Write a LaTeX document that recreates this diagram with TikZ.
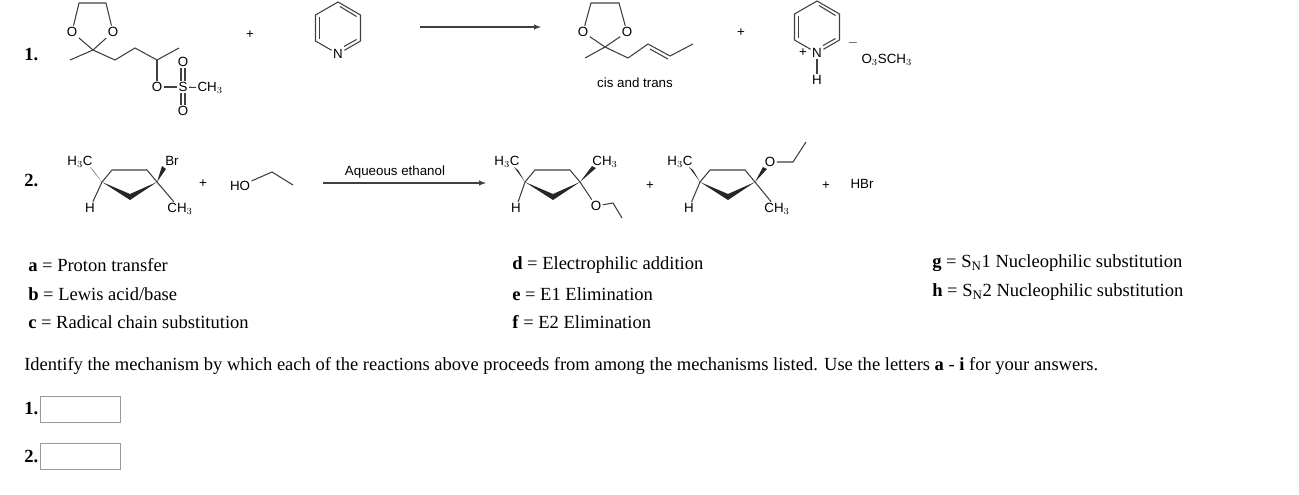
\documentclass[tikz,border=0pt]{standalone}
\usepackage{fontspec}
\setmainfont{Liberation Serif}
\newfontfamily\chemf{Liberation Sans}
\begin{document}
\begin{tikzpicture}[x=0.75pt,y=-0.75pt,
  bond/.style={draw=black!75,line width=0.8pt},
  atm/.style={font=\chemf\fontsize{10}{11}\selectfont,inner sep=1pt,fill=white},
  tx/.style={font=\fontsize{13.9}{15}\selectfont,anchor=west,inner sep=0pt},
  num/.style={font=\bfseries\fontsize{13.9}{15}\selectfont,anchor=west,inner sep=0pt},
  cp/.pic={
    \coordinate (-l) at (0,0); \coordinate (-r) at (55,0);
    \draw[bond] (0,0) -- (10,-12) -- (45,-12) -- (55,0);
    \fill[black!85] (0,0) -- (28,12) -- (55,0) -- (28,18) -- cycle;
  }]
\useasboundingbox (0,0) rectangle (1299,494);
% ---------- reaction 1
\node[num] (n1) at (24,55) {1.};
\coordinate (c2) at (93,50);
\node[atm] (o1) at (72,32) {O};
\node[atm] (o2) at (113,32) {O};
\coordinate (t1) at (79,3); \coordinate (t2) at (106,3);
\draw[bond] (o1) -- (t1) -- (t2) -- (o2);
\draw[bond] (o1) -- (c2) -- (o2);
\draw[bond] (70,60) -- (c2) -- (115,60) -- (135,48) -- (157,60) -- (179,48);
\node[atm] (om) at (157,87) {O};
\node[atm] (s) at (183,87) {S};
\node[atm,anchor=west] (me) at (196,88) {CH$_3$};
\node[atm] (os1) at (183,62) {O};
\node[atm] (os2) at (183,111) {O};
\draw[bond] (157,60) -- (om);
\draw[bond] (om) -- (s); \draw[bond] (s) -- (me);
\draw[bond] ([xshift=-1.5]s.north) -- ([xshift=-1.5]os1.south);
\draw[bond] ([xshift=1.5]s.north) -- ([xshift=1.5]os1.south);
\draw[bond] ([xshift=-1.5]s.south) -- ([xshift=-1.5]os2.north);
\draw[bond] ([xshift=1.5]s.south) -- ([xshift=1.5]os2.north);
\node[atm] (p1) at (250,35) {+};
\begin{scope}[shift={(338,28)}]
\node[atm] (pn) at (0,26) {N};
\draw[bond] (pn) -- (-22.5,13) -- (-22.5,-13) -- (0,-26) -- (22.5,-13) -- (22.5,13) -- (pn);
\draw[bond] (-18.5,11) -- (-18.5,-11);
\draw[bond] (2,-21.5) -- (18.5,-11.5);
\draw[bond] (18.5,11.5) -- (6,18.5);
\end{scope}
\coordinate (a1s) at (420,27); \coordinate (a1e) at (541,27);
\draw[bond,-latex] (a1s) -- (a1e);
\coordinate (d2) at (605,47);
\node[atm] (q1) at (583,32) {O};
\node[atm] (q2) at (627,32) {O};
\draw[bond] (q1) -- (591,3) -- (619,3) -- (q2);
\draw[bond] (q1) -- (d2) -- (q2);
\draw[bond] (585,58) -- (d2) -- (628,58) -- (648,44) -- (670,56) -- (693,44);
\draw[bond] (650,49) -- (668,59);
\node[atm] (cis) at (635,83) {cis and trans};
\node[atm] (p2) at (741,33) {+};
\begin{scope}[shift={(817,27)}]
\node[atm] (qn) at (0,26) {N};
\draw[bond] (qn) -- (-22.5,13) -- (-22.5,-13) -- (0,-26) -- (22.5,-13) -- (22.5,13) -- (qn);
\draw[bond] (-18.5,11) -- (-18.5,-11);
\draw[bond] (2,-21.5) -- (18.5,-11.5);
\draw[bond] (18.5,11.5) -- (6,18.5);
\node[atm] (qh) at (0,53) {H};
\draw[bond] (qn) -- (qh);
\node[atm] (qp) at (-14,26) {+};
\end{scope}
\node[atm] (minus) at (853,43) {$-$};
\node[atm,anchor=west] (ms) at (860,60) {O$_3$SCH$_3$};
% ---------- reaction 2
\node[num] (n2) at (24,180) {2.};
\pic (r1) at (102,182) {cp};
\node[atm] (r1a) at (80,162) {H$_3$C};
\node[atm] (r1h) at (90,208) {H};
\node[atm] (r1b) at (172,161) {Br};
\node[atm] (r1c) at (180,209) {CH$_3$};
\fill[black!85] (r1-l) -- (93,170) -- (90,167) -- cycle;
\draw[bond] (r1-l) -- (r1h);
\fill[black!85] (r1-r) -- (166,169) -- (162,166) -- cycle;
\draw[bond] (r1-r) -- (r1c);
\node[atm] (p3) at (203,184) {+};
\node[atm] (ho) at (240,186) {HO};
\draw[bond] (ho) -- (272,172) -- (293,185);
\node[atm,fill=none] (aq) at (395,172) {Aqueous ethanol};
\coordinate (a2s) at (323,183); \coordinate (a2e) at (486,183);
\draw[bond,-latex] (a2s) -- (a2e);
\pic (r2) at (525,182) {cp};
\node[atm] (r2a) at (507,162) {H$_3$C};
\node[atm] (r2h) at (516,208) {H};
\node[atm] (r2c) at (605,162) {CH$_3$};
\node[atm] (r2o) at (596,206) {O};
\fill[black!85] (r2-l) -- (518,170) -- (514,167) -- cycle;
\draw[bond] (r2-l) -- (r2h);
\fill[black!85] (r2-r) -- (596,168) -- (592,166) -- cycle;
\draw[bond] (r2-r) -- (r2o);
\draw[bond] (r2o) -- (613,203) -- (622,218);
\node[atm] (p4) at (650,186) {+};
\pic (r3) at (700,182) {cp};
\node[atm] (r3a) at (680,162) {H$_3$C};
\node[atm] (r3h) at (689,208) {H};
\node[atm] (r3o) at (770,162) {O};
\node[atm] (r3c) at (777,209) {CH$_3$};
\fill[black!85] (r3-l) -- (693,170) -- (689,167) -- cycle;
\draw[bond] (r3-l) -- (r3h);
\fill[black!85] (r3-r) -- (767,169) -- (763,167) -- cycle;
\draw[bond] (r3-r) -- (r3c);
\draw[bond] (r3o) -- (793,162) -- (806,142);
\node[atm] (p5) at (826,186) {+};
\node[atm] (hbr) at (862,184) {HBr};
% ---------- legend
\node[tx] (la) at (28,265) {\textbf{a} = Proton transfer};
\node[tx] (lb) at (28,294) {\textbf{b} = Lewis acid/base};
\node[tx] (lc) at (28,322) {\textbf{c} = Radical chain substitution};
\node[tx] (ld) at (512,265) {\textbf{d} = Electrophilic addition};
\node[tx] (le) at (512,294) {\textbf{e} = E1 Elimination};
\node[tx] (lf) at (512,322) {\textbf{f} = E2 Elimination};
\node[tx] (lg) at (932,263) {\textbf{g} = S$_{\mathrm N}$1 Nucleophilic substitution};
\node[tx] (lh) at (932,292) {\textbf{h} = S$_{\mathrm N}$2 Nucleophilic substitution};
\node[tx] (q) at (24,366) {Identify the mechanism by which each of the reactions above proceeds from among the mechanisms listed. Use the letters \textbf{a} - \textbf{i} for your answers.};
\node[num] (ans1) at (24,409) {1.};
\node[draw=black!40,minimum width=60pt,minimum height=19.5pt,inner sep=0pt] (box1) at (80,409) {};
\node[num] (ans2) at (24,456) {2.};
\node[draw=black!40,minimum width=60pt,minimum height=19.5pt,inner sep=0pt] (box2) at (80,456) {};
\end{tikzpicture}
\end{document}
